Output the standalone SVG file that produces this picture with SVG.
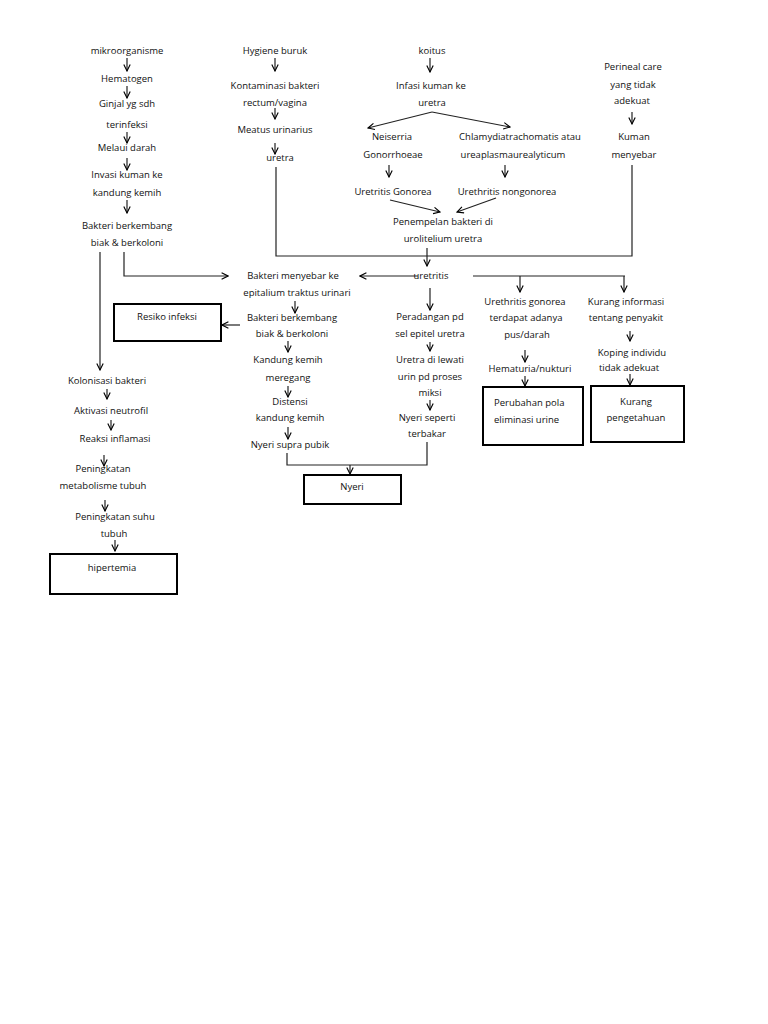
<svg xmlns="http://www.w3.org/2000/svg" width="768" height="1024" viewBox="0 0 768 1024">
<defs>
<marker id="a" viewBox="0 0 10 10" refX="9" refY="5" markerWidth="8" markerHeight="8" orient="auto" markerUnits="userSpaceOnUse"><polyline points="1,1 9,5 1,9" fill="none" stroke="#000" stroke-width="1.4"/></marker>
</defs>
<style>
text{font-family:"Open Sans","Liberation Sans",sans-serif;font-size:9.5px;fill:#111;text-anchor:middle}
.l{text-anchor:start}
.c{fill:none;stroke:#222;stroke-width:1.2}
.c.a{marker-end:url(#a)}
.b{fill:#fff;stroke:#000;stroke-width:2}
</style>
<rect width="768" height="1024" fill="#fff"/>
<g id="connectors">
<path class="c a" d="M127,58V71"/><path class="c a" d="M127,86V98"/><path class="c a" d="M127,132V143"/><path class="c a" d="M127,158V170"/><path class="c a" d="M127,200V213"/>
<path class="c a" d="M124,252V276H228"/><path class="c a" d="M100,252V370"/>
<path class="c a" d="M107,389V399"/><path class="c a" d="M111,420V430"/><path class="c a" d="M104,455V466"/><path class="c a" d="M105,500V511"/><path class="c a" d="M115,540V551"/>
<path class="c a" d="M275,58V71"/><path class="c a" d="M275,108V119"/><path class="c a" d="M275,143V154"/>
<path class="c" d="M276,167V256H632V165"/><path class="c a" d="M427,248V266"/>
<path class="c a" d="M430,58V72"/><path class="c a" d="M432,112L368,128"/><path class="c a" d="M432,112L510,127"/>
<path class="c a" d="M389,165V177"/><path class="c a" d="M505,165V177"/>
<path class="c a" d="M390,200L440,212"/><path class="c a" d="M496,198L457,212"/>
<path class="c a" d="M632,112V124"/>
<path class="c a" d="M418,276H360"/><path class="c" d="M473,276H625"/><path class="c a" d="M520,276V292"/><path class="c a" d="M624,276V292"/><path class="c a" d="M430,288V310"/>
<path class="c a" d="M295,301V313"/><path class="c a" d="M240,325H222"/><path class="c a" d="M288,341V352"/><path class="c a" d="M288,386V397"/><path class="c a" d="M288,427V439"/>
<path class="c a" d="M430,342V351"/><path class="c a" d="M430,400V410"/>
<path class="c" d="M287,453V465H427V442"/><path class="c a" d="M350,465V474"/>
<path class="c a" d="M525,350V362"/><path class="c a" d="M525,376V386"/><path class="c a" d="M630,331V341"/><path class="c a" d="M630,374V385"/>
</g>
<g id="n1"><text x="127" y="54">mikroorganisme</text></g>
<g id="n2"><text x="127" y="82">Hematogen</text></g>
<g id="n3"><text x="127" y="107">Ginjal yg sdh</text><text x="127" y="128">terinfeksi</text></g>
<g id="n4"><text x="127" y="151">Melaui darah</text></g>
<g id="n5"><text x="127" y="178">Invasi kuman ke</text><text x="127" y="196">kandung kemih</text></g>
<g id="n6"><text x="127" y="229">Bakteri berkembang</text><text x="127" y="246">biak &amp; berkoloni</text></g>
<g id="n7"><text x="107" y="384">Kolonisasi bakteri</text></g>
<g id="n8"><text x="111" y="414">Aktivasi neutrofil</text></g>
<g id="n9"><text x="115" y="442">Reaksi inflamasi</text></g>
<g id="n10"><text x="103" y="472">Peningkatan</text><text x="103" y="489">metabolisme  tubuh</text></g>
<g id="n11"><text x="115" y="520">Peningkatan suhu</text><text x="114" y="537">tubuh</text></g>
<g id="n12"><rect class="b" x="50" y="554" width="127" height="40"/><text x="112" y="571">hipertemia</text></g>
<g id="n13"><text x="275" y="54">Hygiene buruk</text></g>
<g id="n14"><text x="275" y="89">Kontaminasi bakteri</text><text x="275" y="106">rectum/vagina</text></g>
<g id="n15"><text x="275" y="133">Meatus urinarius</text></g>
<g id="n16"><text x="280" y="161">uretra</text></g>
<g id="n17"><text x="432" y="54">koitus</text></g>
<g id="n18"><text x="431" y="89">Infasi kuman ke</text><text x="432" y="106">uretra</text></g>
<g id="n19"><text x="392" y="140">Neiserria</text><text x="393" y="158">Gonorrhoeae</text></g>
<g id="n20"><text x="520" y="140">Chlamydiatrachomatis atau</text><text x="513" y="158">ureaplasmaurealyticum</text></g>
<g id="n21"><text x="393" y="195">Uretritis Gonorea</text></g>
<g id="n22"><text x="507" y="195">Urethritis nongonorea</text></g>
<g id="n23"><text x="443" y="225">Penempelan bakteri di</text><text x="443" y="242">urolitelium uretra</text></g>
<g id="n24"><text x="633" y="70">Perineal care</text><text x="633" y="88">yang tidak</text><text x="632" y="104">adekuat</text></g>
<g id="n25"><text x="634" y="140">Kuman</text><text x="634" y="158">menyebar</text></g>
<g id="n26"><text x="431" y="279">uretritis</text></g>
<g id="n27"><text x="293" y="279">Bakteri menyebar ke</text><text x="297" y="296">epitalium traktus urinari</text></g>
<g id="n28"><rect class="b" x="114" y="304" width="107" height="37"/><text x="167" y="320">Resiko  infeksi</text></g>
<g id="n29"><text x="292" y="321">Bakteri berkembang</text><text x="292" y="337">biak &amp; berkoloni</text></g>
<g id="n30"><text x="288" y="363">Kandung kemih</text><text x="288" y="381">meregang</text></g>
<g id="n31"><text x="290" y="405">Distensi</text><text x="290" y="421">kandung kemih</text></g>
<g id="n32"><text x="290" y="448">Nyeri supra pubik</text></g>
<g id="n33"><text x="430" y="320">Peradangan pd</text><text x="430" y="337">sel epitel uretra</text></g>
<g id="n34"><text x="430" y="363">Uretra di lewati</text><text x="430" y="380">urin pd proses</text><text x="430" y="396">miksi</text></g>
<g id="n35"><text x="427" y="421">Nyeri seperti</text><text x="427" y="437">terbakar</text></g>
<g id="n36"><rect class="b" x="304" y="475" width="97" height="29"/><text x="352" y="490">Nyeri</text></g>
<g id="n37"><text x="525" y="305">Urethritis gonorea</text><text x="526" y="321">terdapat adanya</text><text x="527" y="338">pus/darah</text></g>
<g id="n38"><text x="530" y="372">Hematuria/nukturi</text></g>
<g id="n39"><rect class="b" x="483" y="387" width="100" height="58"/><text class="l" x="494" y="406">Perubahan pola</text><text class="l" x="494" y="423">eliminasi urine</text></g>
<g id="n40"><text x="626" y="305">Kurang informasi</text><text x="626" y="321">tentang penyakit</text></g>
<g id="n41"><text x="632" y="356">Koping individu</text><text x="629" y="371">tidak adekuat</text></g>
<g id="n42"><rect class="b" x="591" y="386" width="93" height="56"/><text x="636" y="405">Kurang</text><text x="636" y="421">pengetahuan</text></g>
</svg>
